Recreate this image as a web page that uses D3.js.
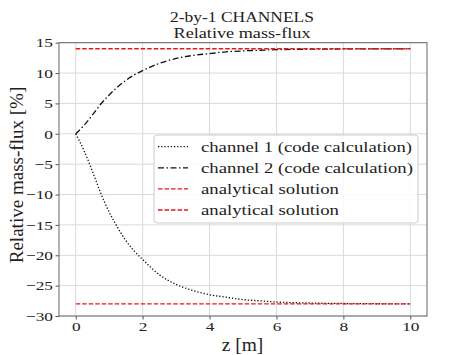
<!DOCTYPE html>
<html><head><meta charset="utf-8">
<script src="https://cdn.jsdelivr.net/npm/d3@7"></script>
<style>body{margin:0;background:#fff}svg{display:block}svg text{font-family:"Liberation Serif",serif}</style>
</head><body><svg id="c" width="474" height="355"></svg>
<script>
const zValues = [0,0.25,0.5,0.75,1,1.25,1.5,1.75,2,2.5,3,3.5,4,4.5,5,5.5,6,7,8,9,10];
const channel1 = [0,-2.8,-6.2,-9.8,-12.9,-15.4,-17.6,-19.3,-20.7,-23.2,-24.8,-25.8,-26.5,-26.9,-27.3,-27.5,-27.7,-27.86,-27.94,-27.98,-28.0];
const channel2 = [0,1.4,3.1,4.9,6.4,7.7,8.8,9.7,10.4,11.6,12.4,12.9,13.2,13.5,13.65,13.76,13.85,13.93,13.97,13.99,14.0];
const analyticZ = [0,10];
const analytic1 = [14,14];
const analytic2 = [-28,-28];
const xTicks = [0,2,4,6,8,10];
const yTicks = [-30,-25,-20,-15,-10,-5,0,5,10,15];
const legendLabels = ["channel 1 (code calculation)","channel 2 (code calculation)","analytical solution","analytical solution"];
const titleLines = ["2-by-1 CHANNELS","Relative mass-flux"];

const svg = d3.select("#c");
const L=59,R=427,T=42.7,B=316;
const x = d3.scaleLinear().domain([-0.5,10.5]).range([L,R]);
const y = d3.scaleLinear().domain([-30,15]).range([B,T]);
const K = 1.3; // horizontal widening to approximate a wide serif face
function widen(sel,k){ sel.each(function(){ const n=this.getComputedTextLength(); this.setAttribute("textLength",n*k); this.setAttribute("lengthAdjust","spacingAndGlyphs"); }); }
function fit(sel,w){ sel.attr("textLength",w).attr("lengthAdjust","spacingAndGlyphs"); }

// grid
svg.append("g").selectAll("line").data(xTicks).join("line").attr("x1",d=>x(d)).attr("x2",d=>x(d)).attr("y1",T).attr("y2",B).attr("stroke","#dadada").attr("stroke-width",1);
svg.append("g").selectAll("line").data(yTicks).join("line").attr("y1",d=>y(d)).attr("y2",d=>y(d)).attr("x1",L).attr("x2",R).attr("stroke","#dadada").attr("stroke-width",1);

// axes
const xa = svg.append("g").attr("transform",`translate(0,${B})`).call(d3.axisBottom(x).tickValues(xTicks).tickSize(3.5).tickPadding(2.5).tickFormat(d3.format("d")));
const ya = svg.append("g").attr("transform",`translate(${L},0)`).call(d3.axisLeft(y).tickValues(yTicks).tickSize(3.5).tickPadding(2.5).tickFormat(d=>d<0?"\u2212"+(-d):d));
[xa,ya].forEach(a=>{a.attr("font-family",null);a.select(".domain").remove();a.selectAll("line").attr("stroke","#555");a.selectAll("text").attr("font-size",13.3).attr("fill","#222");widen(a.selectAll("text"),K);});
svg.append("rect").attr("x",L).attr("y",T).attr("width",R-L).attr("height",B-T).attr("fill","none").attr("stroke","#666").attr("stroke-width",1);

const line = d3.line().x(d=>x(d[0])).y(d=>y(d[1]));
const styles = [
 {c:"#111",w:1.3,dash:"1.3,1.9"},
 {c:"#111",w:1.3,dash:"6,2.5,1.5,2.5"},
 {c:"#e31a1c",w:1.3,dash:"4.5,2"},
 {c:"#e31a1c",w:1.3,dash:"4.5,2"}
];
const series = [
 zValues.map((z,i)=>[z,channel1[i]]),
 zValues.map((z,i)=>[z,channel2[i]]),
 analyticZ.map((z,i)=>[z,analytic1[i]]),
 analyticZ.map((z,i)=>[z,analytic2[i]])
];
series.forEach((s,i)=>{
 svg.append("path").datum(s).attr("d",line.curve(i<2?d3.curveMonotoneX:d3.curveLinear)).attr("fill","none")
  .attr("stroke",styles[i].c).attr("stroke-width",styles[i].w).attr("stroke-dasharray",styles[i].dash);
});

// legend
const legendW = [211,212,138,138];
const lg = svg.append("g");
lg.append("rect").attr("x",154).attr("y",135).attr("width",264).attr("height",88).attr("rx",3)
 .attr("fill","rgba(255,255,255,0.85)").attr("stroke","#ccc").attr("stroke-width",1);
legendLabels.forEach((t,i)=>{
 const yy = 146.7 + i*21.1;
 lg.append("line").attr("x1",158).attr("x2",188).attr("y1",yy).attr("y2",yy)
  .attr("stroke",styles[i].c).attr("stroke-width",styles[i].w).attr("stroke-dasharray",styles[i].dash);
 fit(lg.append("text").attr("x",201).attr("y",yy+5).attr("font-size",13.6).attr("fill","#222").text(t),legendW[i]);
});

// titles
const titleW=[144,137];
svg.selectAll(".tt").data(titleLines).join("text").attr("class","tt").attr("x",242).attr("y",(d,i)=>21.7+i*16)
 .attr("text-anchor","middle").attr("font-size",13.8).attr("fill","#222").text(d=>d).each(function(d,i){fit(d3.select(this),titleW[i]);});
fit(svg.append("text").attr("x",242.5).attr("y",350.5).attr("text-anchor","middle").attr("font-size",18.5).attr("fill","#222").text("z [m]"),41.6);
fit(svg.append("text").attr("transform",`translate(22.5,175) rotate(-90)`).attr("text-anchor","middle").attr("font-size",18.5).attr("fill","#222").text("Relative mass-flux [%]"),176.6);
</script></body></html>
